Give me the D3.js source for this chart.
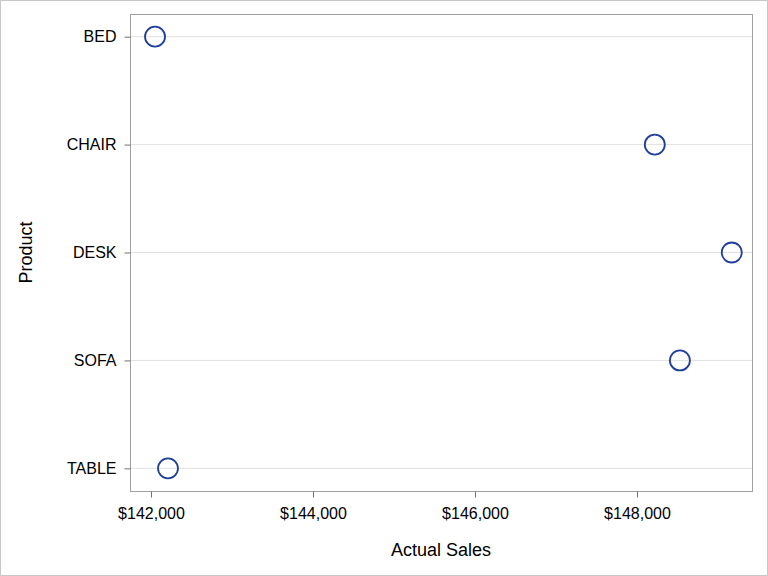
<!DOCTYPE html>
<html>
<head>
<meta charset="utf-8">
<script src="https://d3js.org/d3.v7.min.js"></script>
<style>
  body { margin: 0; background: #fff; }
  text { font-family: "Liberation Sans", Arial, sans-serif; fill: #000; }
  .tick text { font-size: 16px; }
</style>
</head>
<body>
<div id="chart"></div>
<script>
// data
const products = ["BED", "CHAIR", "DESK", "SOFA", "TABLE"];
const actualSales = [142050, 148220, 149170, 148530, 142210];
const xTicks = [142000, 144000, 146000, 148000];

const W = 768, H = 576;
const plot = {left: 130, right: 752, top: 14, bottom: 491};

const svg = d3.select("#chart").append("svg")
    .attr("width", W).attr("height", H);

// outer frame
svg.append("rect").attr("x", 0.5).attr("y", 0.5)
    .attr("width", W - 1).attr("height", H - 1)
    .attr("fill", "none").attr("stroke", "#c8c8c8");

const x = d3.scaleLinear().domain([141741, 149420]).range([plot.left, plot.right]);
const y = d3.scalePoint().domain(products).range([plot.top, plot.bottom]).padding(0.21);

// grid lines
svg.append("g").selectAll("line").data(products).enter().append("line")
    .attr("x1", plot.left).attr("x2", plot.right)
    .attr("y1", d => y(d)).attr("y2", d => y(d))
    .attr("stroke", "#e1e1e1");

// plot frame
svg.append("rect").attr("x", plot.left + 0.5).attr("y", plot.top + 0.5)
    .attr("width", plot.right - plot.left).attr("height", plot.bottom - plot.top)
    .attr("fill", "none").attr("stroke", "#a0a0a0");

const fmt = d => "$" + d3.format(",")(d);
const xAxis = svg.append("g").attr("transform", `translate(0,${plot.bottom + 0.5})`)
    .call(d3.axisBottom(x).tickValues(xTicks).tickFormat(fmt).tickSize(6).tickSizeOuter(0));
xAxis.select(".domain").remove();
xAxis.selectAll("line").attr("stroke", "#707070");
xAxis.selectAll("text").attr("y", 12).attr("dy", "0.95em");

const yAxis = svg.append("g").attr("transform", `translate(${plot.left + 0.5},0)`)
    .call(d3.axisLeft(y).tickSize(6).tickSizeOuter(0));
yAxis.select(".domain").remove();
yAxis.selectAll("line").attr("stroke", "#707070");
yAxis.selectAll("text").attr("x", -14);

svg.append("text").attr("x", (plot.left + plot.right) / 2).attr("y", 556)
    .attr("text-anchor", "middle").attr("font-size", 18).text("Actual Sales");
svg.append("text").attr("transform", `translate(32,${(plot.top + plot.bottom) / 2}) rotate(-90)`)
    .attr("text-anchor", "middle").attr("font-size", 18).text("Product");

svg.append("g").selectAll("circle").data(products).enter().append("circle")
    .attr("cx", (d, i) => x(actualSales[i]))
    .attr("cy", d => y(d))
    .attr("r", 10)
    .attr("fill", "none")
    .attr("stroke", "#1f3f99")
    .attr("stroke-width", 1.8);
</script>
</body>
</html>
